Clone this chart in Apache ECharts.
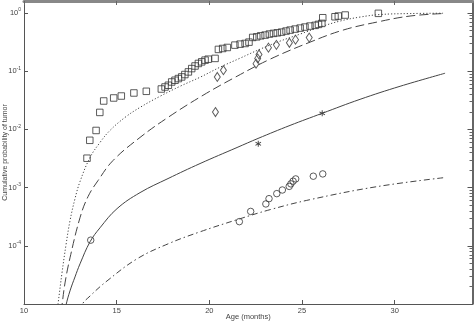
<!DOCTYPE html>
<html>
<head>
<meta charset="utf-8">
<script src="https://cdn.jsdelivr.net/npm/echarts@6/dist/echarts.min.js"></script>
<style>html,body{margin:0;padding:0;background:#fff;}#c{width:474px;height:321px;}</style>
</head>
<body>
<div id="c"></div>
<script>
// ---- data (age in months, cumulative probability) ----
const xTicks = [10, 15, 20, 25, 30];
const yDecades = [-5, -4, -3, -2, -1, 0];

const squares = [
  [13.40,3.2e-3],[13.55,6.5e-3],[13.89,9.6e-3],[14.09,0.0196],[14.30,0.0308],[14.84,0.0347],
  [15.25,0.0375],[15.93,0.0423],[16.60,0.0452],[17.41,0.0495],[17.61,0.0536],[17.79,0.0574],
  [17.97,0.0654],[18.15,0.070],[18.33,0.0748],[18.51,0.0798],[18.68,0.0877],[18.87,0.0973],
  [19.05,0.111],[19.23,0.123],[19.41,0.136],[19.59,0.145],[19.77,0.155],[19.94,0.161],
  [20.31,0.166],[20.49,0.237],[20.72,0.246],[20.97,0.256],[21.38,0.281],[21.66,0.292],
  [21.93,0.300],[22.14,0.316],[22.34,0.381],[22.56,0.390],[22.77,0.406],[23.01,0.418],
  [23.24,0.435],[23.46,0.447],[23.67,0.457],[23.90,0.470],[24.14,0.490],[24.36,0.509],
  [24.63,0.530],[24.90,0.551],[25.16,0.574],[25.43,0.597],[25.71,0.614],[25.89,0.638],
  [26.07,0.664],[26.12,0.830],[26.78,0.863],[26.96,0.888],[27.33,0.924],[29.12,0.988]
];
const diamonds = [
  [20.33,0.0199],[20.43,0.0797],[20.76,0.104],[22.52,0.135],[22.61,0.166],[22.68,0.194],
  [23.19,0.254],[23.62,0.284],[24.32,0.308],[24.65,0.349],[25.39,0.378]
];
const stars = [[22.64,5.67e-3],[26.09,0.0189]];
const circles = [
  [13.60,1.25e-4],[21.62,2.6e-4],[22.23,3.9e-4],[23.05,5.24e-4],[23.22,6.46e-4],[23.64,7.88e-4],
  [23.94,9.1e-4],[24.31,1.05e-3],[24.40,1.16e-3],[24.52,1.29e-3],[24.66,1.41e-3],[25.61,1.57e-3],
  [26.12,1.72e-3]
];

const dottedCurve = [
  [11.78,7.6e-6],[11.835,1.0e-5],[12.05,3.42e-5],[12.267,1.04e-4],[12.483,2.70e-4],[12.752,6.46e-4],
  [13.022,1.27e-3],[13.562,3.29e-3],[14.101,5.97e-3],[14.641,9.61e-3],[15.451,0.0161],[16.260,0.0239],
  [17.339,0.0371],[18.419,0.0551],[19.498,0.0788],[20.577,0.1173],[21.657,0.1675],[22.736,0.2393],
  [23.815,0.3289],[24.895,0.4345],[25.974,0.5737],[27.053,0.7278],[28.133,0.8531],[29.212,0.942],
  [30.831,0.980],[32.61,0.992]
];
const dashedCurve = [
  [11.997,7.28e-6],[12.051,9.6e-6],[12.213,2.30e-5],[12.482,6.21e-5],[13.022,3.04e-4],[13.454,7.00e-4],
  [13.993,1.32e-3],[14.803,2.92e-3],[16.260,7.28e-3],[17.771,0.0161],[19.660,0.0386],[21.495,0.0820],
  [23.276,0.161],[25.434,0.316],[27.215,0.509],[29.050,0.700],[30.831,0.888],[32.612,0.980]
];
const solidCurve = [
  [12.213,7.28e-6],[12.267,9.6e-6],[12.482,1.68e-5],[12.752,2.92e-5],[13.022,4.90e-5],[13.562,1.17e-4],
  [14.101,2.04e-4],[15.019,4.35e-4],[16.260,8.20e-4],[17.771,1.43e-3],[19.498,2.59e-3],[21.495,4.89e-3],
  [22.628,7.00e-3],[24.355,0.01172],[26.082,0.01888],[28.133,0.0329],[30.291,0.0551],[32.720,0.0924]
];
const dashDotCurve = [
  [13.076,7.28e-6],[13.130,9.6e-6],[13.562,1.37e-5],[14.479,2.49e-5],[16.098,5.97e-5],[17.771,1.08e-4],
  [19.498,1.74e-4],[21.495,2.81e-4],[23.276,4.18e-4],[25.434,6.21e-4],[29.050,1.04e-3],[32.720,1.49e-3]
];

// ---- chart ----
const minorTickVals = [];
for (const d of yDecades.slice(0, -1)) for (let k = 2; k <= 9; k++) minorTickVals.push(k * Math.pow(10, d));
const majorTickVals = yDecades.map(d => Math.pow(10, d));

const axisCol = '#555';
const FONT = 'Liberation Sans, Arial, sans-serif';
const yMin = 1e-5, yMax = 1.61;

const asterisk = 'path://M-0.6,-4L0.6,-4L0.6,-1L3.2,-2.6L3.8,-1.6L1.2,0L3.8,1.6L3.2,2.6L0.6,1L0.6,4L-0.6,4L-0.6,1L-3.2,2.6L-3.8,1.6L-1.2,0L-3.8,-1.6L-3.2,-2.6L-0.6,-1Z';

const chart = echarts.init(document.getElementById('c'), null, {renderer: 'canvas'});
const lineBase = {type: 'line', showSymbol: false, symbol: 'none', smooth: 0.4, silent: true, clip: true};
const scatBase = {type: 'scatter', silent: true, itemStyle: {color: 'rgba(0,0,0,0)', borderColor: '#333', borderWidth: 1}};

chart.setOption({
  animation: false,
  backgroundColor: '#fff',
  textStyle: {fontFamily: FONT},
  grid: {left: 24, right: 1.5, top: 1, bottom: 17, containLabel: false, outerBoundsMode: 'none'},
  xAxis: [{
    type: 'value', min: 10, max: 34.2, interval: 5, position: 'bottom',
    name: 'Age (months)', nameLocation: 'middle', nameGap: 9, nameMoveOverlap: false,
    nameTextStyle: {fontSize: 7.5, color: '#444', fontFamily: FONT, verticalAlign: 'top'},
    axisLine: {show: true, lineStyle: {color: axisCol, width: 1}},
    axisTick: {show: true, inside: true, length: 4, lineStyle: {color: axisCol}, customValues: xTicks},
    axisLabel: {show: true, fontSize: 7.5, color: '#444', margin: 3, customValues: xTicks,
      formatter: v => String(v)},
    splitLine: {show: false}
  }, {
    type: 'value', min: 10, max: 34.2, interval: 5, position: 'top',
    axisLine: {show: true, lineStyle: {color: '#888', width: 3}},
    axisTick: {show: true, inside: true, length: 4, lineStyle: {color: '#666'}, customValues: xTicks},
    axisLabel: {show: false}, splitLine: {show: false}
  }],
  yAxis: [{
    type: 'log', logBase: 10, min: yMin, max: yMax, position: 'left',
    name: 'Cumulative probability of tumor', nameLocation: 'middle', nameGap: 15, nameRotate: 90,
    nameMoveOverlap: false,
    nameTextStyle: {fontSize: 7, color: '#444', fontFamily: FONT},
    axisLine: {show: true, lineStyle: {color: axisCol, width: 1}},
    axisTick: {show: true, inside: true, length: 4, lineStyle: {color: axisCol}, customValues: majorTickVals},
    axisLabel: {show: true, margin: 3, color: '#444', customValues: majorTickVals,
      formatter: v => {
        const e = Math.round(Math.log10(v));
        if (e === -5) return '';
        return '{b|10}{s|' + e + '}';
      },
      rich: {b: {fontSize: 7.5, color: '#444', fontFamily: FONT},
             s: {fontSize: 5, color: '#444', fontFamily: FONT, padding: [0, 0, 6, 0]}}},
    splitLine: {show: false}
  }, {
    type: 'log', logBase: 10, min: yMin, max: yMax, position: 'right',
    axisLine: {show: true, lineStyle: {color: '#333', width: 1.5}},
    axisTick: {show: true, inside: true, length: 5, lineStyle: {color: '#555'}, customValues: majorTickVals},
    axisLabel: {show: false}, splitLine: {show: false}
  }, {
    type: 'log', logBase: 10, min: yMin, max: yMax, position: 'right',
    axisLine: {show: false},
    axisTick: {show: true, inside: true, length: 3, lineStyle: {color: '#666'}, customValues: minorTickVals},
    axisLabel: {show: false}, splitLine: {show: false}
  }],
  series: [
    Object.assign({}, lineBase, {name: 'dotted', data: dottedCurve, lineStyle: {color: '#444', width: 1, type: [1.2, 2]}}),
    Object.assign({}, lineBase, {name: 'dashed', data: dashedCurve, lineStyle: {color: '#444', width: 1, type: [9, 4]}}),
    Object.assign({}, lineBase, {name: 'solid', data: solidCurve, lineStyle: {color: '#444', width: 1, type: 'solid'}}),
    Object.assign({}, lineBase, {name: 'dashdot', data: dashDotCurve, lineStyle: {color: '#444', width: 1, type: [6, 3, 1.5, 3]}}),
    Object.assign({}, scatBase, {name: 'squares', data: squares, symbol: 'rect', symbolSize: 6.5}),
    Object.assign({}, scatBase, {name: 'diamonds', data: diamonds, symbol: 'diamond', symbolSize: [6, 9]}),
    Object.assign({}, scatBase, {name: 'circles', data: circles, symbol: 'circle', symbolSize: 6.5}),
    {type: 'scatter', name: 'stars', silent: true, data: stars, symbol: asterisk, symbolSize: 6, itemStyle: {color: '#111'}}
  ]
});
</script>
</body>
</html>
